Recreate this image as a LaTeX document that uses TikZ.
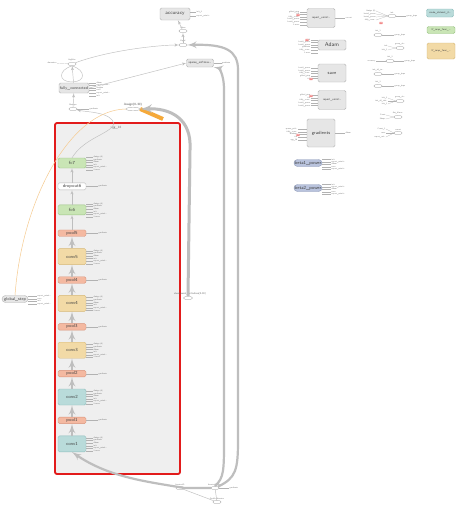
\documentclass[tikz,border=0pt]{standalone}
\usepackage{tikz}
\usetikzlibrary{arrows,positioning,shapes.geometric}

\definecolor{opgray}{HTML}{E6E6E6}
\definecolor{opline}{HTML}{B4B4B4}
\definecolor{fcgreen}{HTML}{C9E5B5}
\definecolor{fcline}{HTML}{9CC486}
\definecolor{convtan}{HTML}{F2DAA6}
\definecolor{convline}{HTML}{D6B877}
\definecolor{convteal}{HTML}{B9DBDA}
\definecolor{tealline}{HTML}{8DBDBC}
\definecolor{poolred}{HTML}{F4B9A1}
\definecolor{poolline}{HTML}{D9937A}
\definecolor{varblue}{HTML}{B9C3DD}
\definecolor{varline}{HTML}{8E9AB8}
\definecolor{vggred}{HTML}{E21B1B}
\definecolor{vggfill}{HTML}{EFEFEF}
\definecolor{flowgray}{HTML}{BEBEBE}
\definecolor{assignorange}{HTML}{F5A93A}
\definecolor{orangethin}{HTML}{F6CB90}
\definecolor{tagred}{HTML}{F28B8B}

\begin{document}
\begin{tikzpicture}[
    x=1pt, y=-1pt,
    node distance=23.4pt,
    >=latex',
    font=\sffamily\fontsize{4.6}{5.5}\selectfont,
    op/.style={
		rectangle,
		rounded corners=1.5pt,
		draw=opline,
		fill=opgray,
		text=black!75,
		minimum width=28pt,
		minimum height=10pt,
		inner sep=0.5pt
	},
	fcop/.style={op, fill=fcgreen, draw=fcline},
	convop/.style={op, fill=convtan, draw=convline, minimum height=16pt},
	convtop/.style={op, fill=convteal, draw=tealline, minimum height=16pt},
	poolop/.style={op, fill=poolred, draw=poolline, minimum height=6.5pt},
	dropop/.style={op, fill=white, minimum height=7pt},
	varop/.style={op, rounded corners=3.5pt, fill=varblue, draw=varline, minimum height=7pt},
	opdot/.style={ellipse, draw=opline, fill=white, minimum width=8pt, minimum height=3.5pt, inner sep=0pt},
	tinylab/.style={font=\sffamily\fontsize{2}{2.4}\selectfont, text=black!60, inner sep=0.4pt},
	redtag/.style={tinylab, fill=tagred, text=white, rounded corners=0.5pt},
	flow/.style={draw=flowgray, line width=2.2pt},
	thinflow/.style={draw=flowgray, line width=0.45pt},
	inedge/.style={draw=black!30, line width=0.2pt}
  ]
  \useasboundingbox[fill=white] (0,0) rectangle (474,514);

    % the vgg_16 group box
  \node [draw=vggred, line width=1.8pt, fill=vggfill, rounded corners=2pt,
         minimum width=125pt, minimum height=351pt] (vgg) at (117.5,298.5) {};
  \node [tinylab, font=\sffamily\fontsize{3.2}{4}\selectfont] (vgglab) at (116,128) {vgg\_16};

    % the layers, from top to bottom
  \node [fcop] (fc7) at (72,163) {fc7};
  \node [dropop, below of=fc7] (dropout6) {dropout6};
  \node [fcop, below of=dropout6] (fc6) {fc6};
  \node [poolop, below of=fc6] (pool5) {pool5};
  \node [convop, below of=pool5] (conv5) {conv5};
  \node [poolop, below of=conv5] (pool4) {pool4};
  \node [convop, below of=pool4] (conv4) {conv4};
  \node [poolop, below of=conv4] (pool3) {pool3};
  \node [convop, below of=pool3] (conv3) {conv3};
  \node [poolop, below of=conv3] (pool2) {pool2};
  \node [convtop, below of=pool2] (conv2) {conv2};
  \node [poolop, below of=conv2] (pool1) {pool1};
  \node [convtop, below of=pool1] (conv1) {conv1};

 \draw [thinflow,->] (dropout6) -- (fc7);
 \draw [thinflow,->] (fc6) -- (dropout6);
 \draw [thinflow,->] (pool5) -- (fc6);
 \draw [flow,->] (conv5) -- (pool5);
 \draw [flow,->] (pool4) -- (conv5);
 \draw [flow,->] (conv4) -- (pool4);
 \draw [flow,->] (pool3) -- (conv4);
 \draw [flow,->] (conv3) -- (pool3);
 \draw [flow,->] (pool2) -- (conv3);
 \draw [flow,->] (conv2) -- (pool2);
 \draw [flow,->] (pool1) -- (conv2);
 \draw [flow,->] (conv1) -- (pool1);

 \foreach \n in {fc7,fc6,conv5,conv4,conv3,conv2,conv1}
   \foreach \t [count=\i] in {Assign (6),gradients,Adam,init,report\_uninit\ldots,2 more}
     \draw [inedge] ([yshift={8.6pt-\i*2.6pt}]\n.east) -- ++(7,0) node [tinylab,right] {\t};
 \foreach \n in {dropout6,pool5,pool4,pool3,pool2,pool1}
   \draw [inedge] (\n.east) -- ++(12,0) node [tinylab,right] {gradients};

    % the head of the net
  \node [op, minimum width=30pt, minimum height=12pt,
         font=\sffamily\fontsize{5}{6}\selectfont] (accuracy) at (175,14) {accuracy};
  \node [opdot] (mean) at (183,31) {};
  \node [tinylab, above=0.3pt of mean] (meanlab) {Mean};
  \node [opdot] (equal) at (183,45) {};
  \node [tinylab, above=0.3pt of equal] (equallab) {Equal};
  \node [opdot] (argmax) at (72,64) {};
  \node [tinylab, above=0.3pt of argmax] (argmaxlab) {ArgMax};
  \node [tinylab] (dimension) at (52,63) {dimension};
  \node [op, minimum width=30pt, font=\sffamily\fontsize{4}{5}\selectfont] (fully) at (74,88) {fully\_connected};
  \node [op, minimum width=27pt, minimum height=8pt,
         font=\sffamily\fontsize{3}{4}\selectfont] (softmax) at (200,63) {sparse\_softmax\ldots};
  \node [opdot] (reshape) at (73,109) {};
  \node [tinylab, above=0.3pt of reshape] (reshapelab) {Reshape};
  \node [opdot, minimum width=14pt] (assign) at (133,109) {};
  \node [tinylab, font=\sffamily\fontsize{3.2}{4}\selectfont, text=black!70,
         above=0.3pt of assign] (assignlab) {Assign(0-30)};
  \coordinate (assignend) at (163,119);
  \node [opdot, minimum width=9pt] (checkpoint) at (188,298) {};
  \node [tinylab, font=\sffamily\fontsize{2.6}{3}\selectfont,
         above=0pt of checkpoint, xshift=2pt] (checkpointlab) {checkpoint\_initializer(0-30)};
  \node [op, rounded corners=3.5pt, minimum width=26pt, minimum height=7pt,
         font=\sffamily\fontsize{4.2}{5}\selectfont] (globalstep) at (15,299) {global\_step};

  \draw [inedge] (accuracy.east) ++(0,-2) -- ++(6,0) node [tinylab,right] {init\_2};
  \draw [inedge] (accuracy.east) ++(0,2) -- ++(6,0) node [tinylab,right] {report\_uninit\ldots};
  \draw [inedge] (dimension) -- (argmax);
  \draw [inedge] (softmax.east) -- ++(8,0) node [tinylab,right] {gradients};
  \draw [inedge] (reshape.east) -- ++(12,0) node [tinylab,right] {gradients};
  \foreach \t [count=\i] in {Adam,report\_uninit\ldots,weights,save,report\_uninit\ldots,init}
    \draw [inedge] ([yshift={8pt-\i*2.6pt}]fully.east) -- ++(7,0) node [tinylab,right] {\t};
  \foreach \t [count=\i] in {report\_uninit\ldots,save,init,report\_uninit\ldots}
    \draw [inedge] ([yshift={5pt-\i*2.4pt}]globalstep.east) -- ++(9,0) node [tinylab,right] {\t};

 \draw [thinflow,->] (mean) -- (accuracy);
 \draw [thinflow,->] (equal) -- (mean);
 \draw [thinflow,->] (fully) -- (argmax);
 \draw [thinflow] (argmax.south) .. controls (58,70) and (58,82) .. (72,82)
       .. controls (86,82) and (86,70) .. (argmax.south);
 \draw [thinflow,->] (argmax) .. controls (110,50) and (160,45) .. (equal);
 \draw [thinflow,->] (fully.east) -- (softmax.west);
 \draw [thinflow,->] (reshape) -- (fully);
 \draw [thinflow,->] (fc7.north) .. controls (84,138) and (110,134) .. (114,124)
       .. controls (112,112) and (86,112) .. (reshape);
 \draw [draw=orangethin, line width=0.5pt] (assign.west) .. controls (70,110) and (22,200) .. (globalstep.north);
 \draw [draw=assignorange, line width=4pt] (assign.east) -- (assignend);
 \draw [flow, line width=3pt,->] (checkpoint.north) -- (190,150) .. controls (192,118) and (170,108) .. (assign.east);

    % input pipeline at the bottom
  \node [opdot] (iterator) at (180,488) {};
  \node [tinylab, above=0.3pt of iterator] (iteratorlab) {IteratorV2};
  \node [opdot] (getnext) at (215,488) {};
  \node [tinylab, above=0.3pt of getnext] (getnextlab) {IteratorGetNext};
  \node [opdot] (oneshot) at (217,502) {};
  \node [tinylab, above=0.3pt of oneshot] (oneshotlab) {OneShotIterator};
  \draw [inedge] (getnext.east) -- ++(10,0) node [tinylab,right] {gradients};

 \draw [flow,->] (getnext) -- (iterator.east) .. controls (150,482) and (110,478) .. (conv1.south);
 \draw [thinflow] (iterator) -- (oneshot);
 \draw [thinflow] (getnext) -- (oneshot);
 \draw [flow,->] (getnext.north) .. controls (224,478) and (224,470) .. (224,440)
       -- (224,90) .. controls (224,72) and (218,68) .. (softmax.south east);
 \draw [flow,->] (getnext.north east) .. controls (236,478) and (238,470) .. (238,440)
       -- (238,70) .. controls (238,50) and (225,44) .. (equal.east);

    % the nodes outside the main graph
  \node [op, minimum height=19pt, font=\sffamily\fontsize{2.8}{3.4}\selectfont] (reportA) at (321,18) {report\_uninit\ldots};
  \node [op, font=\sffamily\fontsize{5.5}{6.5}\selectfont] (adam) at (332,45) {Adam};
  \node [op, minimum height=18pt] (save) at (332,73) {save};
  \node [op, minimum height=19pt, font=\sffamily\fontsize{2.8}{3.4}\selectfont] (reportB) at (332,100) {report\_uninit\ldots};
  \node [op, minimum height=28pt] (gradients) at (321,133) {gradients};
  \node [varop] (beta1) at (308,163) {beta1\_power};
  \node [varop] (beta2) at (308,188) {beta2\_power};

  \foreach \t [count=\i] in {global\_step,fc8,fully\_conn\ldots,beta1\_power,beta2\_power,1 more}
    \draw [inedge] ([yshift={9pt-\i*2.6pt}]reportA.west) -- ++(-7,0) node [tinylab,left] {\t};
  \node [redtag] at (298,15) {fc8};
  \draw [inedge] (reportA.east) -- ++(10,0) node [tinylab,right] {concat};
  \foreach \t [count=\i] in {fc8,beta1\_power,beta2\_power,gradients,fully\_conn\ldots,1 more}
    \draw [inedge] ([yshift={8pt-\i*2.6pt}]adam.west) -- ++(-7,0) node [tinylab,left] {\t};
  \node [redtag] at (307,40) {fc8};
  \foreach \t [count=\i] in {beta1\_power,beta2\_power,fully\_conn\ldots,global\_step,fc8}
    \draw [inedge] ([yshift={7.5pt-\i*2.6pt}]save.west) -- ++(-7,0) node [tinylab,left] {\t};
  \node [redtag] at (311,79) {fc8};
  \foreach \t [count=\i] in {global\_step,fc8,fully\_conn\ldots,beta1\_power,beta2\_power}
    \draw [inedge] ([yshift={7.5pt-\i*2.6pt}]reportB.west) -- ++(-7,0) node [tinylab,left] {\t};
  \node [redtag] at (311,96) {fc8};
  \foreach \t [count=\i] in {sparse\_soft\ldots,fully\_conn\ldots,Reshape,fc8,vgg\_16}
    \draw [inedge] ([yshift={7pt-\i*2.8pt}]gradients.west) -- ++(-9,0) node [tinylab,left] {\t};
  \node [redtag] at (298,135) {fc8};
  \draw [inedge] (gradients.east) -- ++(10,0) node [tinylab,right] {Adam};
  \foreach \b in {beta1,beta2}
    \foreach \t [count=\i] in {init,report\_uninit\ldots,Adam,save,report\_uninit\ldots}
      \draw [inedge] ([yshift={6pt-\i*2.4pt}]\b.east) -- ++(9,0) node [tinylab,right] {\t};

    % init and group_deps nodes
  \node [opdot] (init) at (392,16) {};
  \node [tinylab, above=0.3pt of init] {init};
  \foreach \t [count=\i] in {Assign (6),beta1\_power,beta2\_power,fully\_conn\ldots}
    \draw [inedge] (init.west) -- (376,{8+\i*3}) node [tinylab,left] {\t};
  \node [redtag] (inittag) at (381,23) {fc8};
  \draw [inedge] (init.east) -- ++(10,0) node [tinylab,right] {group\_deps};

  \node [opdot] (init1) at (378,35) {};
  \node [tinylab, above=0.3pt of init1] {init\_1};
  \draw [inedge] (init1.east) -- ++(12,0) node [tinylab,right] {group\_deps};

  \node [opdot] (groupA) at (400,48) {};
  \node [tinylab, above=0.3pt of groupA] {group\_de\ldots};
  \draw [inedge] (groupA.west) -- ++(-8,-2) node [tinylab,left] {init};
  \draw [inedge] (groupA.west) -- ++(-8,2) node [tinylab,left] {init\_1};

  \node [opdot] (init2) at (390,61) {};
  \node [tinylab, above=0.3pt of init2] {init\_2};
  \draw [inedge] (init2.west) -- ++(-10,0) node [tinylab,left] {accuracy};
  \draw [inedge] (init2.east) -- ++(10,0) node [tinylab,right] {group\_deps};

  \node [opdot] (initall) at (378,74) {};
  \node [tinylab, above=0.3pt of initall] {init\_all\_ta\ldots};
  \draw [inedge] (initall.east) -- ++(12,0) node [tinylab,right] {group\_deps};

  \node [opdot] (init3) at (378,86) {};
  \node [tinylab, above=0.3pt of init3] {init\_3};
  \draw [inedge] (init3.east) -- ++(12,0) node [tinylab,right] {group\_deps};

  \node [opdot] (groupB) at (400,101) {};
  \node [tinylab, above=0.3pt of groupB] {group\_de\ldots};
  \draw [inedge] (groupB.west) -- ++(-8,-3) node [tinylab,left] {init\_3};
  \draw [inedge] (groupB.west) -- ++(-8,0) node [tinylab,left] {init\_all\_tab\ldots};
  \draw [inedge] (groupB.west) -- ++(-8,3) node [tinylab,left] {init\_1};

  \node [opdot] (flat) at (398,117) {};
  \node [tinylab, above=0.3pt of flat] {flat\_filena\ldots};
  \draw [inedge] (flat.west) -- ++(-8,-2) node [tinylab,left] {Const};
  \draw [inedge] (flat.west) -- ++(-8,2) node [tinylab,left] {Shape};

  \node [opdot] (concat) at (398,133) {};
  \node [tinylab, above=0.3pt of concat] {concat};
  \draw [inedge] (concat.west) -- ++(-8,-4) node [tinylab,left] {Const\_1};
  \draw [inedge] (concat.west) -- ++(-8,0) node [tinylab,left] {save};
  \draw [inedge] (concat.west) -- ++(-8,4) node [tinylab,left] {report\_uni\ldots};

    % function boxes
  \node [op, fill=convteal, draw=tealline, minimum width=27pt, minimum height=8pt,
         font=\sffamily\fontsize{2.6}{3}\selectfont] (makedata) at (440,13) {make\_dataset\_it\ldots};
  \node [op, fill=fcgreen, draw=fcline, minimum height=7pt,
         font=\sffamily\fontsize{2.6}{3}\selectfont] (mapfuncA) at (441,30) {tf\_map\_func\_\ldots};
  \node [op, fill=convtan, draw=convline, minimum height=16pt,
         font=\sffamily\fontsize{2.6}{3}\selectfont] (mapfuncB) at (441,51) {tf\_map\_func\_\ldots};

\end{tikzpicture}
\end{document}
